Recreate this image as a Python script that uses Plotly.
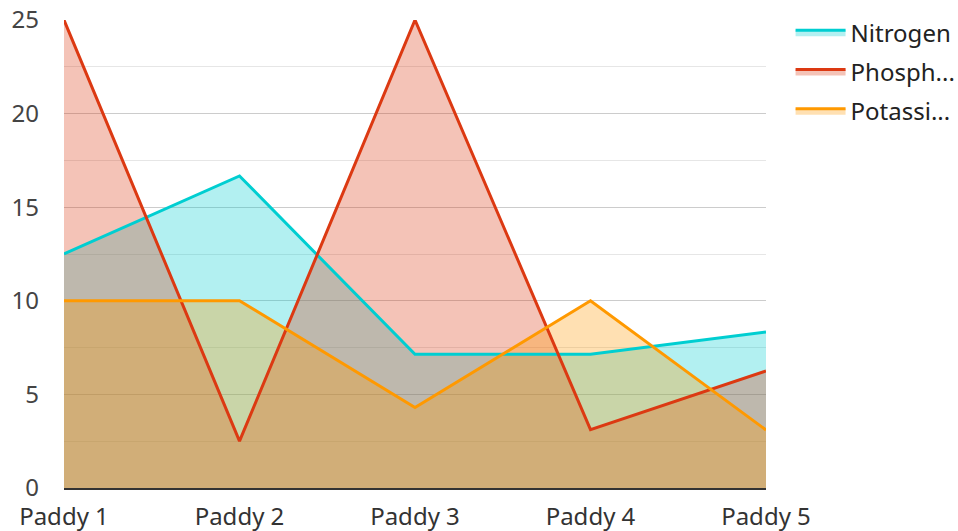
import plotly.graph_objects as go

categories = ["Paddy 1", "Paddy 2", "Paddy 3", "Paddy 4", "Paddy 5"]
nitrogen = [12.5, 16.67, 7.14, 7.14, 8.33]
phosphorus = [25, 2.5, 25, 3.12, 6.25]
potassium = [10, 10, 4.3, 10, 3.1]
series_names = ["Nitrogen", "Phosph...", "Potassi..."]
y_ticks = [0, 5, 10, 15, 20, 25]

line_colors = ["#00CED1", "#DC3912", "#FF9900"]
fill_colors = ["rgba(0,206,209,0.3)", "rgba(220,57,18,0.3)", "rgba(255,153,0,0.3)"]

x_idx = list(range(len(categories)))
all_vals = [nitrogen, phosphorus, potassium]
fig = go.Figure()
# fills first
for name, vals, fc in zip(series_names, all_vals, fill_colors):
    fig.add_trace(go.Scatter(
        x=x_idx, y=vals, mode="lines", line=dict(width=0, color=fc),
        fill="tozeroy", fillcolor=fc, showlegend=False, hoverinfo="skip",
    ))
# lines on top
for name, vals, lc in zip(series_names, all_vals, line_colors):
    fig.add_trace(go.Scatter(
        x=x_idx, y=vals, name=name, mode="lines",
        line=dict(color=lc, width=3), showlegend=False,
    ))
# legend entries
for name, lc, fc in zip(series_names, line_colors, fill_colors):
    fig.add_trace(go.Scatter(
        x=[None], y=[None], name=name, mode="lines", legendgroup=name,
        line=dict(color=lc, width=3), fill="tozeroy", fillcolor=fc,
        showlegend=True,
    ))

fig.update_layout(
    width=958, height=531,
    margin=dict(l=64, r=192, t=20, b=43, autoexpand=False),
    paper_bgcolor="white", plot_bgcolor="white",
    font=dict(family="Noto Sans", size=24, color="#333333"),
    legend=dict(x=1.035, y=1.021, xanchor="left", yanchor="top",
                font=dict(size=24, color="#222222"), tracegroupgap=5,
                itemwidth=50),
    xaxis=dict(
        tickmode="array", tickvals=x_idx, ticktext=categories,
        range=[0, len(categories) - 1], showgrid=False, zeroline=False,
        showline=True, linecolor="#333333", linewidth=2, ticks="",
        tickfont=dict(size=24, color="#333333"), automargin=False,
        ticklabelstandoff=6,
    ),
    yaxis=dict(
        range=[0, 25], tickmode="array", tickvals=y_ticks,
        showgrid=True, gridcolor="#cccccc", gridwidth=1,
        minor=dict(dtick=2.5, showgrid=True, gridcolor="#e6e6e6", gridwidth=1),
        zeroline=False, showline=False, ticks="",
        tickfont=dict(size=24, color="#444444"),
        ticklabelstandoff=24, automargin=False,
    ),
)

fig.write_html("out.html", config={"displayModeBar": False},
               post_script="document.body.style.margin='0';document.body.style.overflow='hidden';")
